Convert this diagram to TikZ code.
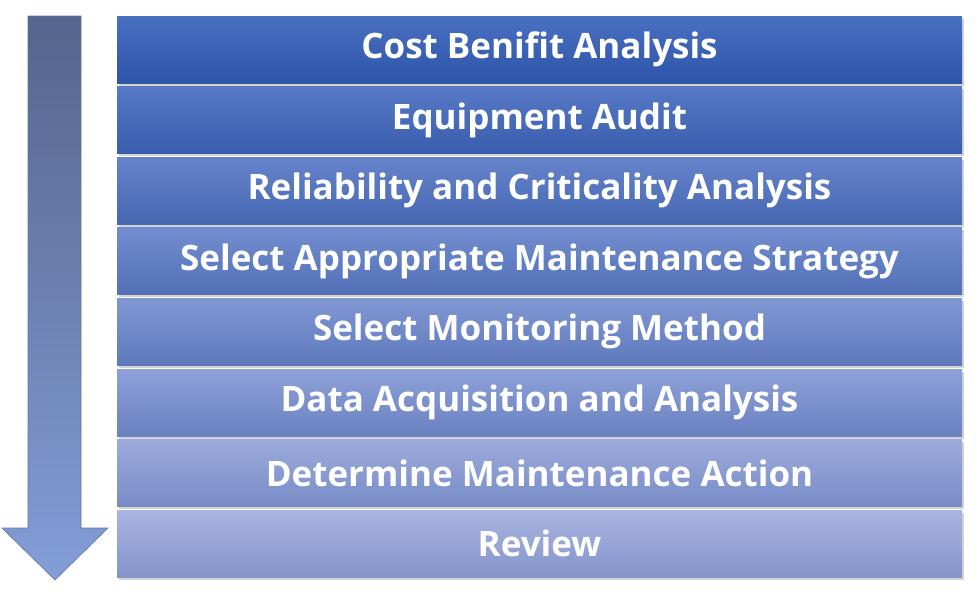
\documentclass[tikz,border=0pt]{standalone}
\usepackage{fontspec}
\newfontfamily\stagefont{Open Sans}
\usetikzlibrary{shadows}
\usetikzlibrary{positioning}
\definecolor{hitop}{HTML}{4A70C2}
\definecolor{hibot}{HTML}{2C54A8}
\definecolor{lotop}{HTML}{A9B5E1}
\definecolor{lobot}{HTML}{8494CB}
\definecolor{arrowtop}{HTML}{55648C}
\definecolor{arrowbot}{HTML}{849ED8}
\definecolor{arrowline}{HTML}{5C74B2}
\tikzset{
    stage/.style={rectangle, inner sep=0pt, minimum width=845pt, minimum height=67pt,
        top color=hitop!#1!lotop, bottom color=hibot!#1!lobot,
        text=white, font=\stagefont\bfseries\fontsize{35}{35}\selectfont,
        drop shadow={shadow xshift=1.5pt, shadow yshift=-2.5pt, opacity=.35}},
    flowarrow/.style={draw=arrowline, line width=.6pt, top color=arrowtop, bottom color=arrowbot},
}
\begin{document}
\begin{tikzpicture}[x=1pt, y=-1pt]
    \useasboundingbox (0,0) rectangle (980,614);
    % the arrow on the left
    \draw[flowarrow] (28,16) -- (81,16) -- (81,528) -- (108,528) -- (55,580)
        -- (2,528) -- (28,528) -- cycle;
    % the stages, top to bottom
    \node[stage=100] (cost)    at (539.5,49.5)  {Cost Benifit Analysis};
    \node[stage=86]  (audit)   at (539.5,120.1) {Equipment Audit};
    \node[stage=71]  (relcrit) at (539.5,190.7) {Reliability and Criticality Analysis};
    \node[stage=57]  (strat)   at (539.5,261.3) {Select Appropriate Maintenance Strategy};
    \node[stage=43]  (monitor) at (539.5,331.9) {Select Monitoring Method};
    \node[stage=29]  (data)    at (539.5,402.5) {Data Acquisition and Analysis};
    \node[stage=14]  (action)  at (539.5,473.1) {Determine Maintenance Action};
    \node[stage=0]   (review)  at (539.5,543.7) {Review};
\end{tikzpicture}
\end{document}
